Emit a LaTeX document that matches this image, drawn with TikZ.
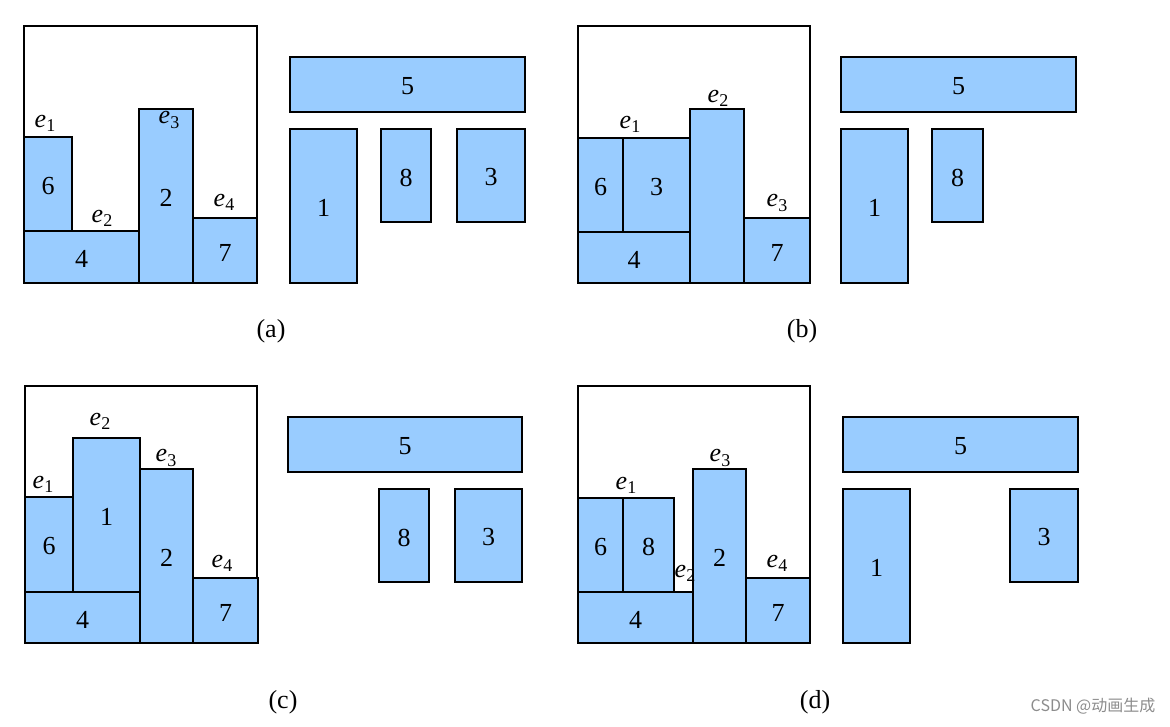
\documentclass[tikz,border=0pt]{standalone}
\usepackage{fontspec}
\setmainfont{Liberation Serif}
\newfontfamily\cjk{Noto Sans CJK SC}
\definecolor{boxblue}{HTML}{99CCFF}
\tikzset{
  blk/.style={draw=black, fill=boxblue, line width=2pt},
  frame/.style={draw=black, line width=2pt},
  num/.style={font=\fontsize{26}{30}\selectfont, inner sep=0pt},
  elab/.style={font=\fontsize{26}{30}\selectfont, inner sep=0pt},
  panelcap/.style={font=\fontsize{26}{30}\selectfont, inner sep=0pt},
}
\newcommand\blk[6]{%
  \path[blk] (#2,#3) rectangle (#4,#5);
  \node[num] (#1) at ({(#2+#4)/2},{(#3+#5)/2+2}) {#6};}
\newcommand\elab[3]{\node[elab] (#1) at (#2) {\textit{e}\raisebox{-0.35ex}{\fontsize{18}{18}\selectfont #3}};}
\begin{document}
\begin{tikzpicture}[x=1pt,y=-1pt]
\useasboundingbox (0,0) rectangle (1170,726);
% ---------- (a)
\path[frame] (24,26) rectangle (257,283);
\blk{a6}{24}{137}{72}{231}{6}
\blk{a4}{24}{231}{139}{283}{4}
\blk{a2}{139}{109}{193}{283}{2}
\blk{a7}{193}{218}{257}{283}{7}
\elab{ae1}{45,123}{1}
\elab{ae2}{102,218}{2}
\elab{ae3}{169,120}{3}
\elab{ae4}{224,202}{4}
\blk{ar5}{290}{57}{525}{112}{5}
\blk{ar1}{290}{129}{357}{283}{1}
\blk{ar8}{381}{129}{431}{222}{8}
\blk{ar3}{457}{129}{525}{222}{3}
\node[panelcap] (capa) at (271,331) {(a)};
% ---------- (b)
\path[frame] (578,26) rectangle (810,283);
\blk{b6}{578}{138}{623}{232}{6}
\blk{b3}{623}{138}{690}{232}{3}
\blk{b4}{578}{232}{690}{283}{4}
\blk{b2}{690}{109}{744}{283}{}
\blk{b7}{744}{218}{810}{283}{7}
\elab{be1}{630,124}{1}
\elab{be2}{718,98}{2}
\elab{be3}{777,203}{3}
\blk{br5}{841}{57}{1076}{112}{5}
\blk{br1}{841}{129}{908}{283}{1}
\blk{br8}{932}{129}{983}{222}{8}
\node[panelcap] (capb) at (802,331) {(b)};
% ---------- (c)
\path[frame] (25,386) rectangle (257,643);
\blk{c6}{25}{497}{73}{592}{6}
\blk{c1}{73}{438}{140}{592}{1}
\blk{c4}{25}{592}{140}{643}{4}
\blk{c2}{140}{469}{193}{643}{2}
\blk{c7}{193}{578}{258}{643}{7}
\elab{ce1}{43,484}{1}
\elab{ce2}{100,421}{2}
\elab{ce3}{166,458}{3}
\elab{ce4}{222,563}{4}
\blk{cr5}{288}{417}{522}{472}{5}
\blk{cr8}{379}{489}{429}{582}{8}
\blk{cr3}{455}{489}{522}{582}{3}
\node[panelcap] (capc) at (283,702) {(c)};
% ---------- (d)
\path[frame] (578,386) rectangle (810,643);
\blk{d6}{578}{498}{623}{592}{6}
\blk{d8}{623}{498}{674}{592}{8}
\blk{d4}{578}{592}{693}{643}{4}
\blk{d2}{693}{469}{746}{643}{2}
\blk{d7}{746}{578}{810}{643}{7}
\elab{de1}{626,485}{1}
\elab{de2}{685,573}{2}
\elab{de3}{720,458}{3}
\elab{de4}{777,563}{4}
\blk{dr5}{843}{417}{1078}{472}{5}
\blk{dr1}{843}{489}{910}{643}{1}
\blk{dr3}{1010}{489}{1078}{582}{3}
\node[panelcap] (capd) at (815,702) {(d)};
% watermark
\node[inner sep=0pt, text=black!45, font=\cjk\fontsize{16}{19}\selectfont] (wm) at (1093,706) {CSDN @动画生成};
\end{tikzpicture}
\end{document}
